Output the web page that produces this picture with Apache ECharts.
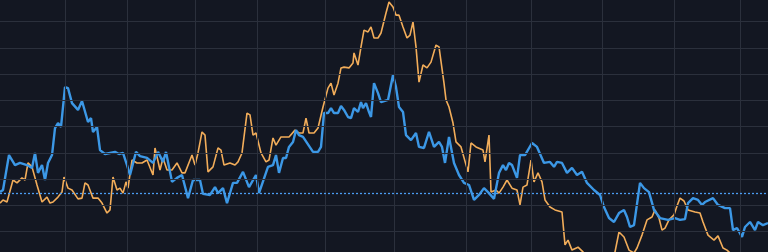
<!DOCTYPE html>
<html>
<head>
<meta charset="utf-8">
<script src="https://cdn.jsdelivr.net/npm/echarts@6/dist/echarts.min.js"></script>
<style>
html,body{margin:0;padding:0;background:#131722;}
#c{width:768px;height:252px;}
</style>
</head>
<body>
<div id="c"></div>
<script>
// time axis in trading-day units, value axis in chart units
var blueSeries = [
[0,15.1],[0.75,15.9],[2.25,29.2],[3.75,25.4],[5,26.2],[6.75,25.4],[8,24.3],[8.75,30.0],[9.5,22.4],[10.5,25.4],
[11.25,19.7],[12,26.2],[13,29.2],[13.75,39.5],[14.5,41.4],[15.25,39.9],[16.25,55.1],[17,54.7],[18,49.0],[19.5,46.4],
[20.5,49.8],[21,49.8],[22,41.8],[22.75,43.3],[23.25,38.0],[24.25,39.9],[25,31.1],[26.25,29.6],[27.5,30.0],[28.75,30.4],
[29.75,29.6],[30.75,30.0],[31.75,25.4],[32.5,21.6],[34,30.4],[35,28.8],[36.75,28.1],[38.25,26.2],[39.5,30.4],[40.75,26.6],
[41.5,30.4],[43,19.0],[44.25,20.5],[45.5,21.6],[47,12.8],[48.25,19.7],[50,19.7],[50.75,14.4],[52.5,14.0],[53.75,17.0],
[54.5,14.7],[55.75,16.6],[56.75,10.9],[58.25,18.6],[59.25,18.6],[60.75,22.8],[62.25,17.0],[64,21.6],[64.75,14.7],[67,24.7],
[68.25,25.4],[69,29.2],[69.75,22.4],[70.75,28.1],[71.5,28.1],[72.25,32.3],[73.25,34.2],[74,38.7],[74.75,36.8],[75.75,36.1],
[78.25,30.4],[79.5,30.4],[80.25,32.3],[81,45.2],[82,45.2],[82.75,47.1],[83.5,45.2],[84.5,45.2],[85.25,47.9],[86,46.4],
[87,43.7],[87.75,43.3],[88.5,47.1],[89.5,45.6],[90.25,49.4],[90.75,47.1],[91.5,49.0],[92.25,45.6],[92.75,43.7],[93.5,56.6],
[94.5,52.8],[95.25,49.4],[97,50.2],[98.25,59.7],[99,55.1],[99.75,47.5],[100.75,45.6],[101.5,36.8],[102.75,34.9],[104,37.6],
[104.75,32.3],[106,31.9],[107.25,38.0],[108.5,32.3],[109.75,34.2],[110.5,32.3],[111.25,26.2],[112.25,36.1],[113.5,26.2],[114.75,21.6],
[116,18.6],[117.25,17.8],[118.5,12.1],[119.75,14.0],[121,16.6],[122.25,14.7],[123.5,12.5],[124.75,22.4],[125.75,25.4],[126.5,23.5],
[127.25,26.2],[128,25.4],[129.25,20.5],[130,29.2],[131.25,29.2],[133,33.8],[134.25,32.3],[136,26.2],[137.5,26.6],[138.5,24.7],
[139.25,26.6],[140.5,26.2],[141.75,22.4],[143,24.3],[144.25,21.6],[145.5,22.8],[146.75,18.6],[148.5,15.9],[150,14.0],[151,9.4],
[152.25,5.2],[153.5,3.7],[154.75,7.1],[156,8.3],[156.75,5.6],[157.5,1.8],[158.5,2.5],[160,18.6],[161,16.6],[162.25,15.1],
[163.5,8.3],[165,5.2],[167,4.5],[168.75,5.2],[170,4.5],[171.25,4.8],[172,10.9],[173.25,12.8],[174.5,12.1],[175.5,10.2],
[176.25,11.3],[178.25,12.8],[179.5,10.2],[181.25,9.0],[182.5,9.0],[183.25,0.6],[184.25,1.4],[185.5,-2.0],[186.25,1.8],[187.5,3.7],
[188.75,0.6],[189.5,3.7],[190.75,2.5],[192,3.3]
];
var orangeSeries = [
[0,10.9],[0.75,12.1],[1.75,11.3],[3.25,19.7],[4.25,18.6],[5.5,20.5],[6.25,19.7],[7,26.2],[8,24.7],[9.25,17.8],
[10.5,11.3],[11.75,13.2],[12.5,10.9],[13.25,11.3],[14.5,13.2],[15.5,15.1],[16,20.8],[17,16.6],[18,15.9],[19.5,12.5],
[20.5,12.8],[21.25,18.6],[22,17.8],[23.25,12.8],[24.5,12.8],[25.5,10.9],[26.75,7.1],[27.5,8.3],[28.25,20.8],[29.25,15.9],
[30,16.6],[30.75,14.7],[31.5,19.0],[32,16.6],[33,27.3],[34.25,26.2],[35.5,26.2],[36.75,27.3],[38.25,21.6],[38.75,31.9],
[40,23.5],[40.75,28.1],[41.75,23.5],[43,23.5],[44.25,26.2],[45.5,22.4],[46.25,22.4],[48,29.2],[48.75,25.4],[49.5,30.0],
[50.5,38.0],[51.25,36.8],[52,22.8],[53.25,24.7],[54.5,31.9],[55.25,31.1],[56,25.4],[57.5,26.2],[58.75,25.4],[59.5,26.6],
[60.5,30.0],[61.75,45.2],[62.5,44.5],[63.25,36.8],[64,37.6],[65.25,30.0],[66.5,26.6],[67.25,27.3],[68.25,35.7],[69,33.0],
[70.25,36.1],[71.5,36.1],[72.25,36.1],[73.75,38.7],[74.75,37.6],[75.75,37.6],[76.5,43.3],[77.25,37.6],[78.5,37.6],[79.5,39.5],
[80.75,47.5],[82,54.7],[82.75,56.6],[83.5,52.1],[84.5,56.6],[85.25,62.4],[86,62.7],[87.25,62.4],[88.25,64.3],[88.5,68.1],
[89.5,63.5],[90.25,70.4],[91,76.8],[92,76.1],[92.75,78.0],[93.5,73.8],[94.5,73.8],[95.25,75.7],[96.5,83.3],[97.25,87.5],
[98.25,85.6],[99,82.5],[99.75,82.5],[100.75,78.0],[101.75,73.8],[102.5,74.9],[103.25,79.9],[104,70.4],[104.75,57.0],[105.75,63.5],
[106.75,62.4],[107.75,64.6],[109,71.1],[109.75,70.4],[111,56.6],[111.5,50.2],[112.25,47.5],[113.25,41.4],[114,34.2],[115.25,32.3],
[117,22.8],[117.75,33.8],[119,32.3],[120.75,31.1],[121.25,26.6],[122.25,36.8],[122.75,15.1],[124,15.9],[124.75,14.7],[125.75,17.0],
[126.75,19.7],[128,16.6],[129.25,15.9],[130,10.2],[130.75,17.0],[131.75,17.8],[132.75,27.3],[133.5,19.0],[134.5,22.4],[135.5,19.0],
[136.25,12.1],[137.5,9.4],[138.75,8.3],[140.5,7.5],[141.25,-5.0],[142,-3.2],[143,-7.0],[144.5,-5.9],[145.75,-7.7],[147.5,-11.5],
[150,-12.7],[152.5,-11.5],[153.75,-7.7],[154.75,-0.1],[156,-2.0],[157.25,-7.0],[158.5,-8.1],[159.25,-6.2],[160.5,-1.3],[161.75,4.5],
[163,5.6],[163.75,8.3],[164.75,5.2],[165.5,0.6],[166.25,1.4],[167.25,4.5],[168.5,6.4],[169.25,9.8],[170,12.8],[171,11.7],
[172,8.3],[173.75,7.5],[175,7.1],[175.75,3.7],[177,-1.3],[178.5,-3.2],[179.5,-1.6],[180.75,-6.2],[181.75,-7.0],[182.5,-8.1],
[185,-11.5],[187.5,-12.7],[190,-11.5],[192,-12.7]
];
var monthStarts = [16.43, 31.88, 48.93, 64.33, 81.38, 98.58, 116.63, 132.75, 150.63, 168.63, 185];
var levelLines = [0, 10, 20, 30, 40, 50, 60, 70, 80];
var priceLine = 14.6;
var visibleMin = -7.73, visibleMax = 88.27;

var gridColor = '#2b303c';
var chart = echarts.init(document.getElementById('c'), null, {renderer: 'canvas'});
chart.setOption({
  backgroundColor: '#131722',
  animation: false,
  grid: {left: 0, right: 0, top: 0, bottom: 0, containLabel: false},
  xAxis: {
    type: 'value', min: 0, max: 192,
    axisLine: {show: false}, axisTick: {show: false}, axisLabel: {show: false},
    splitLine: {show: false}
  },
  yAxis: {
    type: 'value', min: visibleMin, max: visibleMax,
    axisLine: {show: false}, axisTick: {show: false}, axisLabel: {show: false},
    splitLine: {show: false}
  },
  series: [
    {
      type: 'line', data: [], silent: true,
      markLine: {
        silent: true, symbol: 'none', label: {show: false},
        lineStyle: {color: gridColor, width: 1, type: 'solid'},
        data: monthStarts.map(function (d) { return {xAxis: d}; })
          .concat(levelLines.map(function (v) { return {yAxis: v}; }))
      }
    },
    {
      type: 'line', data: orangeSeries, showSymbol: false, clip: true,
      lineStyle: {color: '#f2ad5a', width: 1.6}, itemStyle: {color: '#f2ad5a'},
      z: 3
    },
    {
      type: 'line', data: blueSeries, showSymbol: false, clip: true,
      lineStyle: {color: '#3c98e6', width: 2.4}, itemStyle: {color: '#3c98e6'},
      z: 4,
      markLine: {
        silent: true, symbol: 'none', label: {show: false},
        emphasis: {disabled: true},
        lineStyle: {color: '#4a9cf2', width: 1.3, type: [2, 2], opacity: 1},
        data: [{yAxis: priceLine, lineStyle: {color: '#4a9cf2'}}]
      }
    }
  ]
});
</script>
</body>
</html>
